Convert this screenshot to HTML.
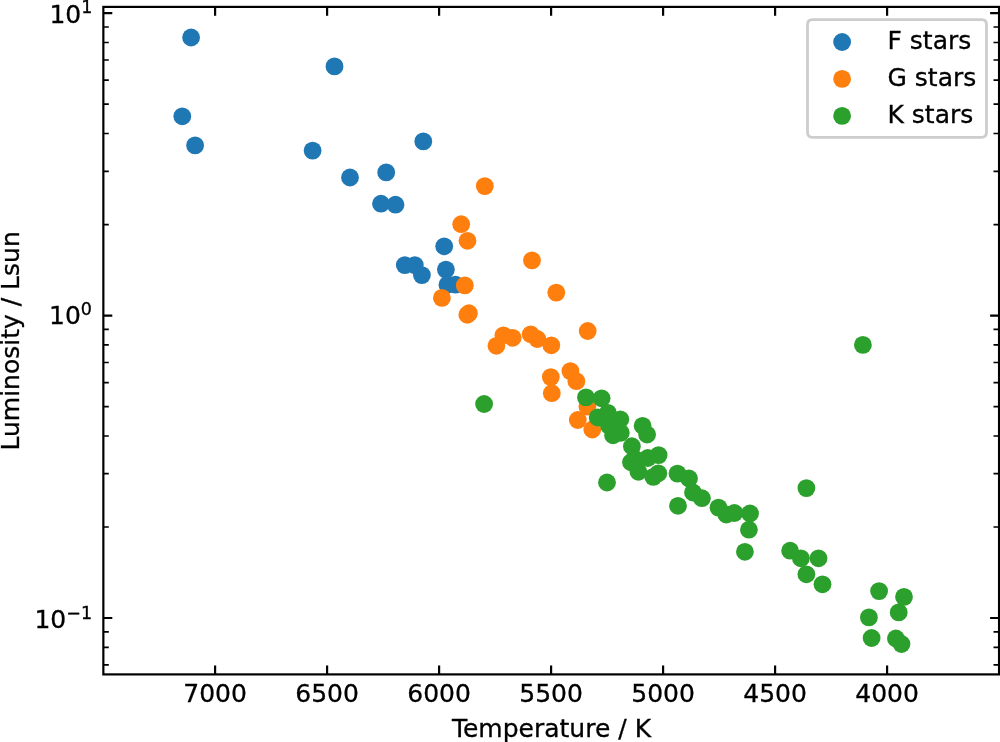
<!DOCTYPE html>
<html lang="en"><head><meta charset="utf-8"><title>HR diagram</title>
<style>html,body{margin:0;padding:0;background:#fff}svg{display:block}text{stroke:#000;stroke-width:.3px}</style></head>
<body>
<svg width="1000" height="742" viewBox="0 0 1000 742" font-family="'DejaVu Sans', 'Liberation Sans', sans-serif" font-size="25px" fill="#000">
<rect width="1000" height="742" fill="#fff"/>
<g fill="#1f77b4">
<circle cx="191.1" cy="37.5" r="8.9"/>
<circle cx="182.3" cy="116.3" r="8.9"/>
<circle cx="195.1" cy="145.4" r="8.9"/>
<circle cx="334.5" cy="66.4" r="8.9"/>
<circle cx="312.6" cy="150.6" r="8.9"/>
<circle cx="423.3" cy="141.4" r="8.9"/>
<circle cx="350.0" cy="177.5" r="8.9"/>
<circle cx="386.2" cy="172.4" r="8.9"/>
<circle cx="381.0" cy="203.7" r="8.9"/>
<circle cx="395.5" cy="204.7" r="8.9"/>
<circle cx="444.2" cy="246.3" r="8.9"/>
<circle cx="404.8" cy="265.1" r="8.9"/>
<circle cx="414.8" cy="265.1" r="8.9"/>
<circle cx="421.9" cy="275.1" r="8.9"/>
<circle cx="445.9" cy="269.6" r="8.9"/>
<circle cx="447.4" cy="284.7" r="8.9"/>
<circle cx="455.5" cy="284.7" r="8.9"/>
</g>
<g fill="#ff7f0e">
<circle cx="484.8" cy="186.1" r="8.9"/>
<circle cx="461.2" cy="224.2" r="8.9"/>
<circle cx="467.5" cy="240.8" r="8.9"/>
<circle cx="532.0" cy="260.4" r="8.9"/>
<circle cx="464.8" cy="285.4" r="8.9"/>
<circle cx="441.9" cy="297.9" r="8.9"/>
<circle cx="467.3" cy="314.8" r="8.9"/>
<circle cx="468.9" cy="313.2" r="8.9"/>
<circle cx="556.3" cy="292.6" r="8.9"/>
<circle cx="503.4" cy="335.3" r="8.9"/>
<circle cx="512.7" cy="337.8" r="8.9"/>
<circle cx="496.4" cy="345.8" r="8.9"/>
<circle cx="530.7" cy="334.3" r="8.9"/>
<circle cx="537.3" cy="339.0" r="8.9"/>
<circle cx="551.3" cy="345.3" r="8.9"/>
<circle cx="587.7" cy="331.0" r="8.9"/>
<circle cx="550.8" cy="377.1" r="8.9"/>
<circle cx="570.4" cy="371.1" r="8.9"/>
<circle cx="576.4" cy="381.2" r="8.9"/>
<circle cx="551.8" cy="393.2" r="8.9"/>
<circle cx="587.4" cy="406.6" r="8.9"/>
<circle cx="577.8" cy="420.0" r="8.9"/>
<circle cx="592.3" cy="429.5" r="8.9"/>
</g>
<g fill="#2ca02c">
<circle cx="634.5" cy="458.5" r="8.9"/>
<circle cx="484.1" cy="404.0" r="8.9"/>
<circle cx="586.0" cy="397.4" r="8.9"/>
<circle cx="601.6" cy="398.3" r="8.9"/>
<circle cx="597.7" cy="417.5" r="8.9"/>
<circle cx="607.9" cy="412.9" r="8.9"/>
<circle cx="620.3" cy="419.3" r="8.9"/>
<circle cx="608.9" cy="425.6" r="8.9"/>
<circle cx="613.1" cy="435.3" r="8.9"/>
<circle cx="620.8" cy="432.8" r="8.9"/>
<circle cx="642.6" cy="425.8" r="8.9"/>
<circle cx="647.1" cy="434.5" r="8.9"/>
<circle cx="631.9" cy="446.2" r="8.9"/>
<circle cx="631.0" cy="462.3" r="8.9"/>
<circle cx="638.4" cy="471.8" r="8.9"/>
<circle cx="647.8" cy="458.0" r="8.9"/>
<circle cx="658.6" cy="455.1" r="8.9"/>
<circle cx="658.3" cy="473.3" r="8.9"/>
<circle cx="653.3" cy="476.9" r="8.9"/>
<circle cx="677.5" cy="473.6" r="8.9"/>
<circle cx="689.0" cy="478.5" r="8.9"/>
<circle cx="607.0" cy="482.5" r="8.9"/>
<circle cx="693.0" cy="492.5" r="8.9"/>
<circle cx="701.9" cy="498.2" r="8.9"/>
<circle cx="678.0" cy="505.8" r="8.9"/>
<circle cx="718.5" cy="507.6" r="8.9"/>
<circle cx="726.3" cy="514.5" r="8.9"/>
<circle cx="734.4" cy="513.0" r="8.9"/>
<circle cx="750.0" cy="513.5" r="8.9"/>
<circle cx="748.9" cy="529.7" r="8.9"/>
<circle cx="744.9" cy="551.8" r="8.9"/>
<circle cx="862.9" cy="344.9" r="8.9"/>
<circle cx="806.4" cy="488.1" r="8.9"/>
<circle cx="790.1" cy="550.7" r="8.9"/>
<circle cx="800.9" cy="558.3" r="8.9"/>
<circle cx="818.5" cy="558.3" r="8.9"/>
<circle cx="806.4" cy="574.3" r="8.9"/>
<circle cx="822.5" cy="584.3" r="8.9"/>
<circle cx="879.1" cy="591.1" r="8.9"/>
<circle cx="904.0" cy="596.9" r="8.9"/>
<circle cx="898.7" cy="612.4" r="8.9"/>
<circle cx="868.9" cy="617.4" r="8.9"/>
<circle cx="871.6" cy="638.0" r="8.9"/>
<circle cx="895.9" cy="638.5" r="8.9"/>
<circle cx="901.5" cy="644.0" r="8.9"/>
</g>
<g stroke="#000" stroke-width="2.2" fill="none">
<path d="M215.1 674.4V665.4M215.1 6.9V15.8"/>
<path d="M327.1 674.4V665.4M327.1 6.9V15.8"/>
<path d="M439.1 674.4V665.4M439.1 6.9V15.8"/>
<path d="M551.1 674.4V665.4M551.1 6.9V15.8"/>
<path d="M663.1 674.4V665.4M663.1 6.9V15.8"/>
<path d="M775.1 674.4V665.4M775.1 6.9V15.8"/>
<path d="M887.1 674.4V665.4M887.1 6.9V15.8"/>
<path d="M103.35 13.2H112.3M999.05 13.2H990.1"/>
<path d="M103.35 315.6H112.3M999.05 315.6H990.1"/>
<path d="M103.35 618.0H112.3M999.05 618.0H990.1"/>
<path stroke-width="1.67" d="M103.35 224.6H108.8M999.05 224.6H993.5"/>
<path stroke-width="1.67" d="M103.35 171.3H108.8M999.05 171.3H993.5"/>
<path stroke-width="1.67" d="M103.35 133.5H108.8M999.05 133.5H993.5"/>
<path stroke-width="1.67" d="M103.35 104.2H108.8M999.05 104.2H993.5"/>
<path stroke-width="1.67" d="M103.35 80.2H108.8M999.05 80.2H993.5"/>
<path stroke-width="1.67" d="M103.35 60.0H108.8M999.05 60.0H993.5"/>
<path stroke-width="1.67" d="M103.35 42.5H108.8M999.05 42.5H993.5"/>
<path stroke-width="1.67" d="M103.35 27.0H108.8M999.05 27.0H993.5"/>
<path stroke-width="1.67" d="M103.35 527.0H108.8M999.05 527.0H993.5"/>
<path stroke-width="1.67" d="M103.35 473.7H108.8M999.05 473.7H993.5"/>
<path stroke-width="1.67" d="M103.35 436.0H108.8M999.05 436.0H993.5"/>
<path stroke-width="1.67" d="M103.35 406.6H108.8M999.05 406.6H993.5"/>
<path stroke-width="1.67" d="M103.35 382.7H108.8M999.05 382.7H993.5"/>
<path stroke-width="1.67" d="M103.35 362.5H108.8M999.05 362.5H993.5"/>
<path stroke-width="1.67" d="M103.35 344.9H108.8M999.05 344.9H993.5"/>
<path stroke-width="1.67" d="M103.35 329.4H108.8M999.05 329.4H993.5"/>
<path stroke-width="1.67" d="M103.35 664.9H108.8M999.05 664.9H993.5"/>
<path stroke-width="1.67" d="M103.35 647.4H108.8M999.05 647.4H993.5"/>
<path stroke-width="1.67" d="M103.35 631.9H108.8M999.05 631.9H993.5"/>
<rect x="103.35" y="6.9" width="895.7" height="667.5" stroke-linejoin="miter"/>
</g>
<g text-anchor="middle">
<text x="215.1" y="702.3">7000</text>
<text x="327.1" y="702.3">6500</text>
<text x="439.1" y="702.3">6000</text>
<text x="551.1" y="702.3">5500</text>
<text x="663.1" y="702.3">5000</text>
<text x="775.1" y="702.3">4500</text>
<text x="887.1" y="702.3">4000</text>
<text x="551.5" y="737">Temperature / K</text>
</g>
<text x="92.4" y="22.8" text-anchor="end">10<tspan dy="-10.0" font-size="17.5px">1</tspan></text>
<text x="92.0" y="324.4" text-anchor="end">10<tspan dy="-9.6" font-size="17.5px">0</tspan></text>
<text x="92.1" y="628.0" text-anchor="end">10<tspan dy="-9.5" font-size="17.5px">−1</tspan></text>
<text transform="translate(19.4 340.9) rotate(-90)" text-anchor="middle">Luminosity / Lsun</text>
<path d="M812.50 19.6H981.50Q986.5 19.6 986.5 24.60V132.30Q986.5 137.3 981.50 137.3H812.50Q807.5 137.3 807.5 132.30V24.60Q807.5 19.6 812.50 19.6Z" fill="#fff" fill-opacity="0.8" stroke="#cdcdcd" stroke-width="2.78"/>
<circle cx="842.1" cy="42.0" r="8.9" fill="#1f77b4"/>
<text x="887.5" y="48.6">F stars</text>
<circle cx="842.1" cy="78.9" r="8.9" fill="#ff7f0e"/>
<text x="887.5" y="85.5">G stars</text>
<circle cx="842.1" cy="115.9" r="8.9" fill="#2ca02c"/>
<text x="887.5" y="122.6">K stars</text>
</svg>
</body></html>
